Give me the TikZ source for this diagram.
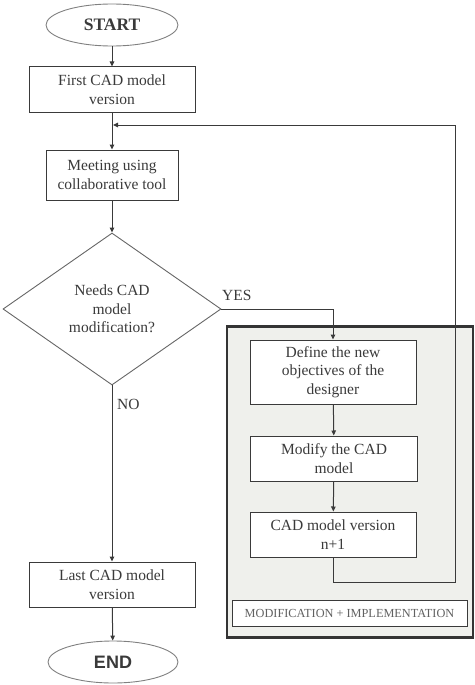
\documentclass[tikz,border=0pt]{standalone}
\usepackage{fontspec}
\setmainfont{Liberation Serif}
\newfontfamily\arialfont{Liberation Sans}
\usetikzlibrary{shapes.geometric,arrows.meta}
\definecolor{ln}{HTML}{3A3A3A}
\definecolor{framefill}{HTML}{EFF0EC}
\tikzset{
  txt/.style={font=\fontsize{15.5}{18.5}\selectfont, text=ln, align=center},
  box/.style={txt, draw=ln, line width=1pt, fill=white, inner sep=0pt},
  term/.style={ellipse, draw=gray, line width=0.9pt, fill=white, inner sep=0pt},
  conn/.style={draw=ln, line width=1pt},
  arr/.style={conn, -{Triangle[length=5pt,width=4.5pt]}},
  lbl/.style={txt, inner sep=0pt}
}
\begin{document}
\begin{tikzpicture}[x=1pt,y=-1pt]
\useasboundingbox (0,0) rectangle (474,685);
% frame
\node[draw=ln!90!black, line width=2.5pt, fill=framefill, minimum width=246pt, minimum height=311pt, inner sep=0pt] (frame) at (350,482) {};
% main column
\node[term, minimum width=132pt, minimum height=42pt, font=\fontsize{17.5}{20}\selectfont\bfseries, text=ln] (start) at (112,25) {START};
\node[box, minimum width=166pt, minimum height=45pt] (first) at (112,89.5) {First CAD model\\version};
\node[box, minimum width=132pt, minimum height=50pt] (meet) at (112,175) {Meeting using\\collaborative tool};
\node[diamond, txt, draw=gray!80!black, line width=0.9pt, fill=white, minimum width=218pt, minimum height=152pt, inner sep=0pt] (dec) at (112,309) {Needs CAD\\model\\modification?};
\node[box, minimum width=166pt, minimum height=45pt] (last) at (112,584.5) {Last CAD model\\version};
\node[term, minimum width=130pt, minimum height=42pt, font=\arialfont\fontsize{18}{20}\selectfont\bfseries, text=ln] (end) at (113,662) {END};
% modification column
\node[box, minimum width=166pt, minimum height=64pt] (define) at (333,372) {Define the new\\objectives of the\\designer};
\node[box, minimum width=167pt, minimum height=45pt] (modify) at (334,458.5) {Modify the CAD\\model};
\node[box, minimum width=166pt, minimum height=45pt] (nplus) at (333,534.5) {CAD model version\\n+1};
\node[box, minimum width=235pt, minimum height=26pt, font=\fontsize{12.3}{14}\selectfont, text=ln!80] (modimpl) at (349.5,613) {MODIFICATION + IMPLEMENTATION};
% labels
\node[lbl, anchor=west] (yes) at (222,295) {YES};
\node[lbl, anchor=west] (no) at (117,404) {NO};
% coordinates
\coordinate (yescorner) at (333,309);
\coordinate (loopa) at (333,582);
\coordinate (loopb) at (455,582);
\coordinate (loopc) at (455,125);
\coordinate (loopin) at (113,125);
% connectors
\draw[arr] (start) -- (first);
\draw[arr] (first) -- (meet);
\draw[arr] (meet) -- (dec);
\draw[arr] (dec) -- (last);
\draw[arr] (last) -- (end);
\draw[arr] (dec.east) -- (yescorner) -- (define.north);
\draw[arr] (define) -- (modify);
\draw[arr] (modify) -- (nplus);
\draw[arr] (nplus.south) -- (loopa) -- (loopb) -- (loopc) -- (loopin);
\end{tikzpicture}
\end{document}
